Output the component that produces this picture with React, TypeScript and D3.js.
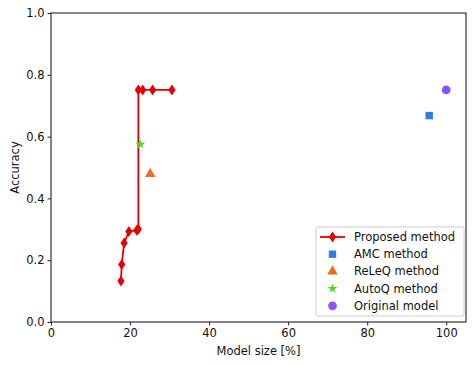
import React, { useEffect, useRef } from "react";
import * as d3 from "d3";

// proposed method points, in line order (model size %, accuracy)
const proposedSize = [17.7, 17.9, 18.5, 19.7, 21.7, 22.1, 22.1, 23.2, 25.7, 30.6];
const proposedAcc = [0.133, 0.186, 0.256, 0.293, 0.297, 0.30, 0.751, 0.751, 0.751, 0.751];

// other methods, one point each
const otherNames = ["AMC method", "ReLeQ method", "AutoQ method", "Original model"];
const otherSize = [95.7, 25.1, 22.6, 100];
const otherAcc = [0.668, 0.479, 0.575, 0.751];
const otherShapes = ["square", "triangle", "star", "circle"];
const otherColors = ["#2a80e0", "#f26a1b", "#48dc22", "#8a55f2"];

const xTicks = [0, 20, 40, 60, 80, 100];
const yTicks = [0, 0.2, 0.4, 0.6, 0.8, 1.0];

const symbolFor = (s: string) =>
  s === "square" ? d3.symbolSquare : s === "triangle" ? d3.symbolTriangle : s === "star" ? d3.symbolStar : d3.symbolCircle;
const symbolArea = (s: string) => (s === "square" ? 55 : s === "triangle" ? 48 : s === "star" ? 30 : 60);

export default function App() {
  const svgRef = useRef<SVGSVGElement>(null);

  useEffect(() => {
    const width = 474;
    const height = 365;
    const margin = { top: 13, right: 8, bottom: 43, left: 51 };
    const font = "DejaVu Sans, sans-serif";
    const fs = 11.5;
    const red = "#e60000";

    const root = d3.select(svgRef.current);
    root.selectAll("*").remove();
    root.attr("width", width).attr("height", height);

    const w = width - margin.left - margin.right;
    const h = height - margin.top - margin.bottom;
    const svg = root.append("g").attr("transform", `translate(${margin.left},${margin.top})`);

    const x = d3.scaleLinear().domain([0, 105]).range([0, w]);
    const y = d3.scaleLinear().domain([0, 1]).range([h, 0]);

    // x axis
    const xAxis = svg.append("g")
      .attr("transform", `translate(0,${h})`)
      .call(d3.axisBottom(x).tickValues(xTicks).tickFormat(d3.format("d")).tickSizeOuter(0).tickSize(3.5).tickPadding(3));
    // y axis
    const yAxis = svg.append("g")
      .call(d3.axisLeft(y).tickValues(yTicks).tickFormat(d3.format(".1f")).tickSizeOuter(0).tickSize(3.5).tickPadding(3));

    [xAxis, yAxis].forEach(a => {
      a.selectAll("text").attr("font-family", font).attr("font-size", fs).attr("fill", "#111");
      a.selectAll("line").attr("stroke", "#222").attr("stroke-width", 1);
      a.select(".domain").remove();
    });

    // frame
    svg.append("rect")
      .attr("width", w).attr("height", h)
      .attr("fill", "none").attr("stroke", "#222").attr("stroke-width", 1.1);

    // axis labels
    svg.append("text")
      .attr("x", w / 2).attr("y", h + 33)
      .attr("text-anchor", "middle")
      .attr("font-family", font).attr("font-size", fs).attr("fill", "#111")
      .text("Model size [%]");
    svg.append("text")
      .attr("transform", `translate(${-32.5},${h / 2}) rotate(-90)`)
      .attr("text-anchor", "middle")
      .attr("font-family", font).attr("font-size", fs).attr("fill", "#111")
      .text("Accuracy");

    const diamond = "M0,-5.5L3.6,0L0,5.5L-3.6,0Z";

    // proposed method line + diamonds
    const pts = proposedSize.map((s, i) => [s, proposedAcc[i]] as [number, number]);
    svg.append("path")
      .datum(pts)
      .attr("d", d3.line<[number, number]>().x(d => x(d[0])).y(d => y(d[1])))
      .attr("fill", "none").attr("stroke", red).attr("stroke-width", 1.8);
    svg.selectAll(".dia")
      .data(pts)
      .enter()
      .append("path")
      .attr("class", "dia")
      .attr("transform", d => `translate(${x(d[0])},${y(d[1])})`)
      .attr("d", diamond)
      .attr("fill", red);

    // other methods
    otherNames.forEach((n, i) => {
      svg.append("path")
        .attr("transform", `translate(${x(otherSize[i])},${y(otherAcc[i])})`)
        .attr("d", d3.symbol().type(symbolFor(otherShapes[i])).size(symbolArea(otherShapes[i]))())
        .attr("fill", otherColors[i]);
    });

    // legend
    const lx = 316 - margin.left, ly = 227 - margin.top;
    const lg = svg.append("g").attr("transform", `translate(${lx},${ly})`);
    lg.append("rect")
      .attr("width", 148).attr("height", 89).attr("rx", 2)
      .attr("fill", "white").attr("fill-opacity", 0.85)
      .attr("stroke", "#ccc").attr("stroke-width", 1);
    const rowY = (i: number) => 10 + i * 17.2;
    lg.append("line")
      .attr("x1", 4).attr("x2", 29).attr("y1", rowY(0)).attr("y2", rowY(0))
      .attr("stroke", red).attr("stroke-width", 1.8);
    lg.append("path").attr("transform", `translate(16.5,${rowY(0)})`).attr("d", diamond).attr("fill", red);
    otherNames.forEach((n, i) => {
      lg.append("path")
        .attr("transform", `translate(16.5,${rowY(i + 1)})`)
        .attr("d", d3.symbol().type(symbolFor(otherShapes[i])).size(symbolArea(otherShapes[i]))())
        .attr("fill", otherColors[i]);
    });
    ["Proposed method", ...otherNames].forEach((t, i) => {
      lg.append("text")
        .attr("x", 38).attr("y", rowY(i)).attr("dy", "0.35em")
        .attr("font-family", font).attr("font-size", fs).attr("fill", "#111")
        .text(t);
    });
  }, []);

  return <svg ref={svgRef} style={{ position: "absolute", left: 0, top: 0 }}></svg>;
}
